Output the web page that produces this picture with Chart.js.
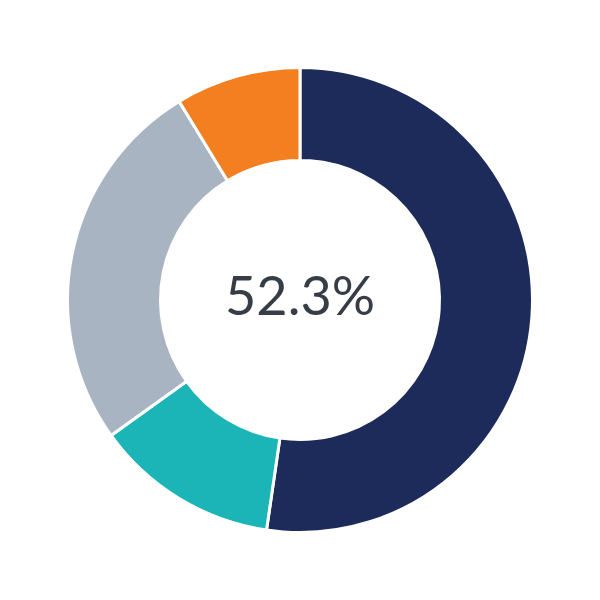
<!DOCTYPE html>
<html>
<head>
<meta charset="utf-8">
<script src="https://cdn.jsdelivr.net/npm/chart.js@4/dist/chart.umd.min.js"></script>
<style>
  html, body { margin: 0; padding: 0; background: #fff; }
  #wrap { width: 600px; height: 600px; }
</style>
</head>
<body>
<div id="wrap"><canvas id="donut"></canvas></div>
<script>
const labels = ["Navy", "Teal", "Gray", "Orange"];
const values = [52.3, 12.8, 26.2, 8.7];
const colors = ["#1c2b5a", "#1bb5b7", "#a9b4c2", "#f47f20"];
const centerText = "52.3%";

const centerLabel = {
  id: "centerLabel",
  afterDraw(chart) {
    const ctx = chart.ctx;
    const meta = chart.getDatasetMeta(0).data[0];
    ctx.save();
    ctx.font = "400 54px Lato";
    ctx.fillStyle = "#363d47";
    ctx.textAlign = "center";
    ctx.textBaseline = "middle";
    ctx.fillText(centerText, meta.x, meta.y - 2);
    ctx.restore();
  },
};

new Chart(document.getElementById("donut"), {
  type: "doughnut",
  data: {
    labels: labels,
    datasets: [
      {
        data: values,
        backgroundColor: colors,
        borderColor: "#ffffff",
        borderWidth: 3,
      },
    ],
  },
  options: {
    responsive: true,
    maintainAspectRatio: false,
    animation: false,
    cutout: "60%",
    layout: { padding: 66 },
    plugins: {
      legend: { display: false },
      tooltip: { enabled: false },
    },
  },
  plugins: [centerLabel],
});
</script>
</body>
</html>
